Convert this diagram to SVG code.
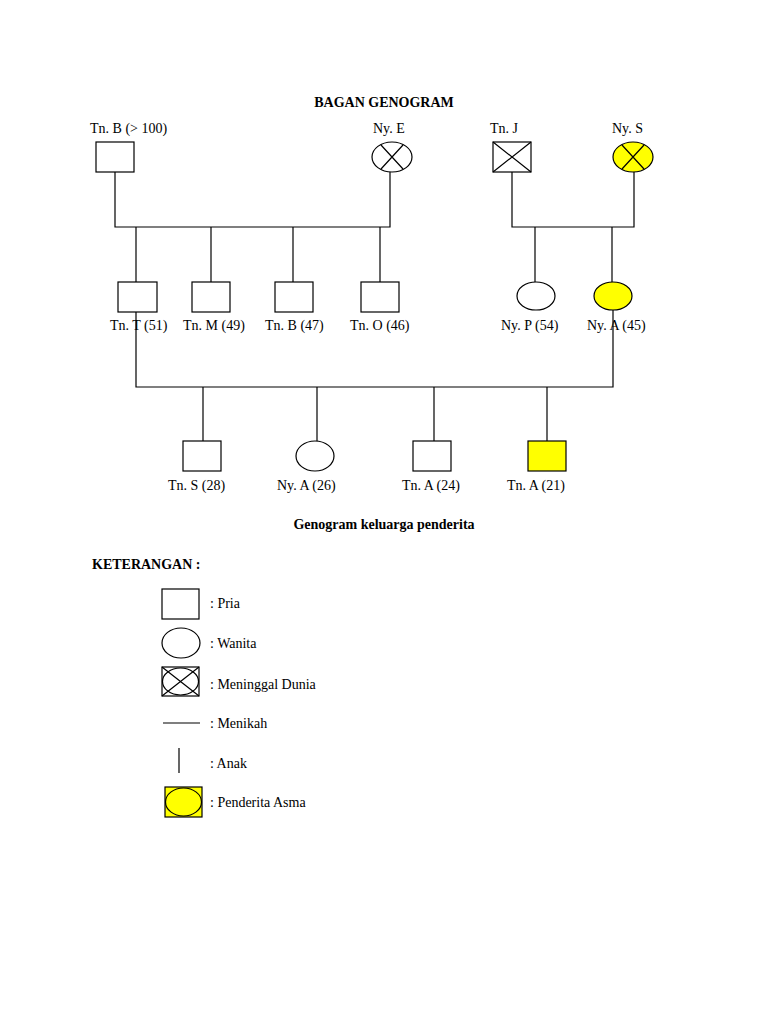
<svg xmlns="http://www.w3.org/2000/svg" width="768" height="1024" viewBox="0 0 768 1024">
<style>
text{font-family:"Liberation Serif","Times New Roman",serif;font-size:14px;fill:#000}
.b{font-weight:bold}
.s{fill:#fff;stroke:#000;stroke-width:1.2}
.y{fill:#ffff00;stroke:#000;stroke-width:1.2}
.l{stroke:#000;stroke-width:1.2;fill:none}
</style>
<rect width="768" height="1024" fill="#fff"/>
<text x="384" y="107" text-anchor="middle" class="b">BAGAN GENOGRAM</text>
<g id="connectors" class="l">
<polyline points="115,172 115,227 390,227 390,172"/>
<line x1="136" y1="227" x2="136" y2="282"/><line x1="211" y1="227" x2="211" y2="282"/>
<line x1="293" y1="227" x2="293" y2="282"/><line x1="380" y1="227" x2="380" y2="282"/>
<polyline points="512,172 512,227 634,227 634,172"/>
<line x1="535" y1="227" x2="535" y2="282"/><line x1="612" y1="227" x2="612" y2="282"/>
<polyline points="136,312 136,387 613,387 613,310"/>
<line x1="203" y1="387" x2="203" y2="441"/><line x1="317" y1="387" x2="317" y2="441"/>
<line x1="434" y1="387" x2="434" y2="441"/><line x1="547" y1="387" x2="547" y2="441"/>
</g>
<g id="tnB"><rect class="s" x="96" y="142" width="38" height="30"/><text x="90" y="133">Tn. B (&gt; 100)</text></g>
<g id="nyE"><ellipse class="s" cx="392" cy="157" rx="20" ry="15"/><path class="l" d="M381,145 L403,169 M403,145 L381,169"/><text x="373" y="133">Ny. E</text></g>
<g id="tnJ"><rect class="s" x="493" y="142" width="38" height="30"/><path class="l" d="M493,142 L531,172 M531,142 L493,172"/><text x="490" y="133">Tn. J</text></g>
<g id="nyS"><ellipse class="y" cx="633" cy="157" rx="20" ry="15"/><path class="l" d="M622,145 L644,169 M644,145 L622,169"/><text x="612" y="133">Ny. S</text></g>
<g id="tnT"><rect class="s" x="118" y="282" width="39" height="30"/><text x="110" y="330">Tn. T (51)</text></g>
<g id="tnM"><rect class="s" x="192" y="282" width="38" height="30"/><text x="183" y="330">Tn. M  (49)</text></g>
<g id="tnB2"><rect class="s" x="275" y="282" width="38" height="30"/><text x="265" y="330">Tn. B (47)</text></g>
<g id="tnO"><rect class="s" x="361" y="282" width="38" height="30"/><text x="350" y="330">Tn. O  (46)</text></g>
<g id="nyP"><ellipse class="s" cx="536" cy="296" rx="19" ry="14"/><text x="501" y="330">Ny. P (54)</text></g>
<g id="nyA"><ellipse class="y" cx="613" cy="296" rx="19" ry="14"/><text x="587" y="330">Ny. A (45)</text></g>
<g id="tnS"><rect class="s" x="183" y="441" width="38" height="30"/><text x="168" y="490">Tn. S (28)</text></g>
<g id="nyA2"><ellipse class="s" cx="315" cy="456" rx="19" ry="15"/><text x="277" y="490">Ny. A (26)</text></g>
<g id="tnA"><rect class="s" x="413" y="441" width="38" height="30"/><text x="402" y="490">Tn. A (24)</text></g>
<g id="tnA2"><rect class="y" x="528" y="441" width="38" height="30"/><text x="507" y="490">Tn. A (21)</text></g>
<text x="384" y="529" text-anchor="middle" class="b">Genogram keluarga penderita</text>
<text x="92" y="569" class="b">KETERANGAN :</text>
<g id="legend">
<rect class="s" x="162" y="589" width="37" height="30"/><text x="210" y="608">:  Pria</text>
<ellipse class="s" cx="181" cy="643" rx="19" ry="15"/><text x="210" y="648">:  Wanita</text>
<rect class="s" x="162" y="667" width="37" height="29"/><ellipse class="l" cx="180.5" cy="681.5" rx="18" ry="13.5"/><path class="l" d="M162,667 L199,696 M199,667 L162,696"/><text x="210" y="689">: Meninggal Dunia</text>
<line class="l" x1="163" y1="723" x2="200" y2="723"/><text x="210" y="728">:  Menikah</text>
<line class="l" x1="179" y1="748" x2="179" y2="773"/><text x="210" y="768">:  Anak</text>
<rect class="y" x="165" y="787" width="37" height="30"/><ellipse class="l" cx="183.5" cy="802" rx="18" ry="14"/><text x="210" y="807">: Penderita Asma</text>
</g>
</svg>
